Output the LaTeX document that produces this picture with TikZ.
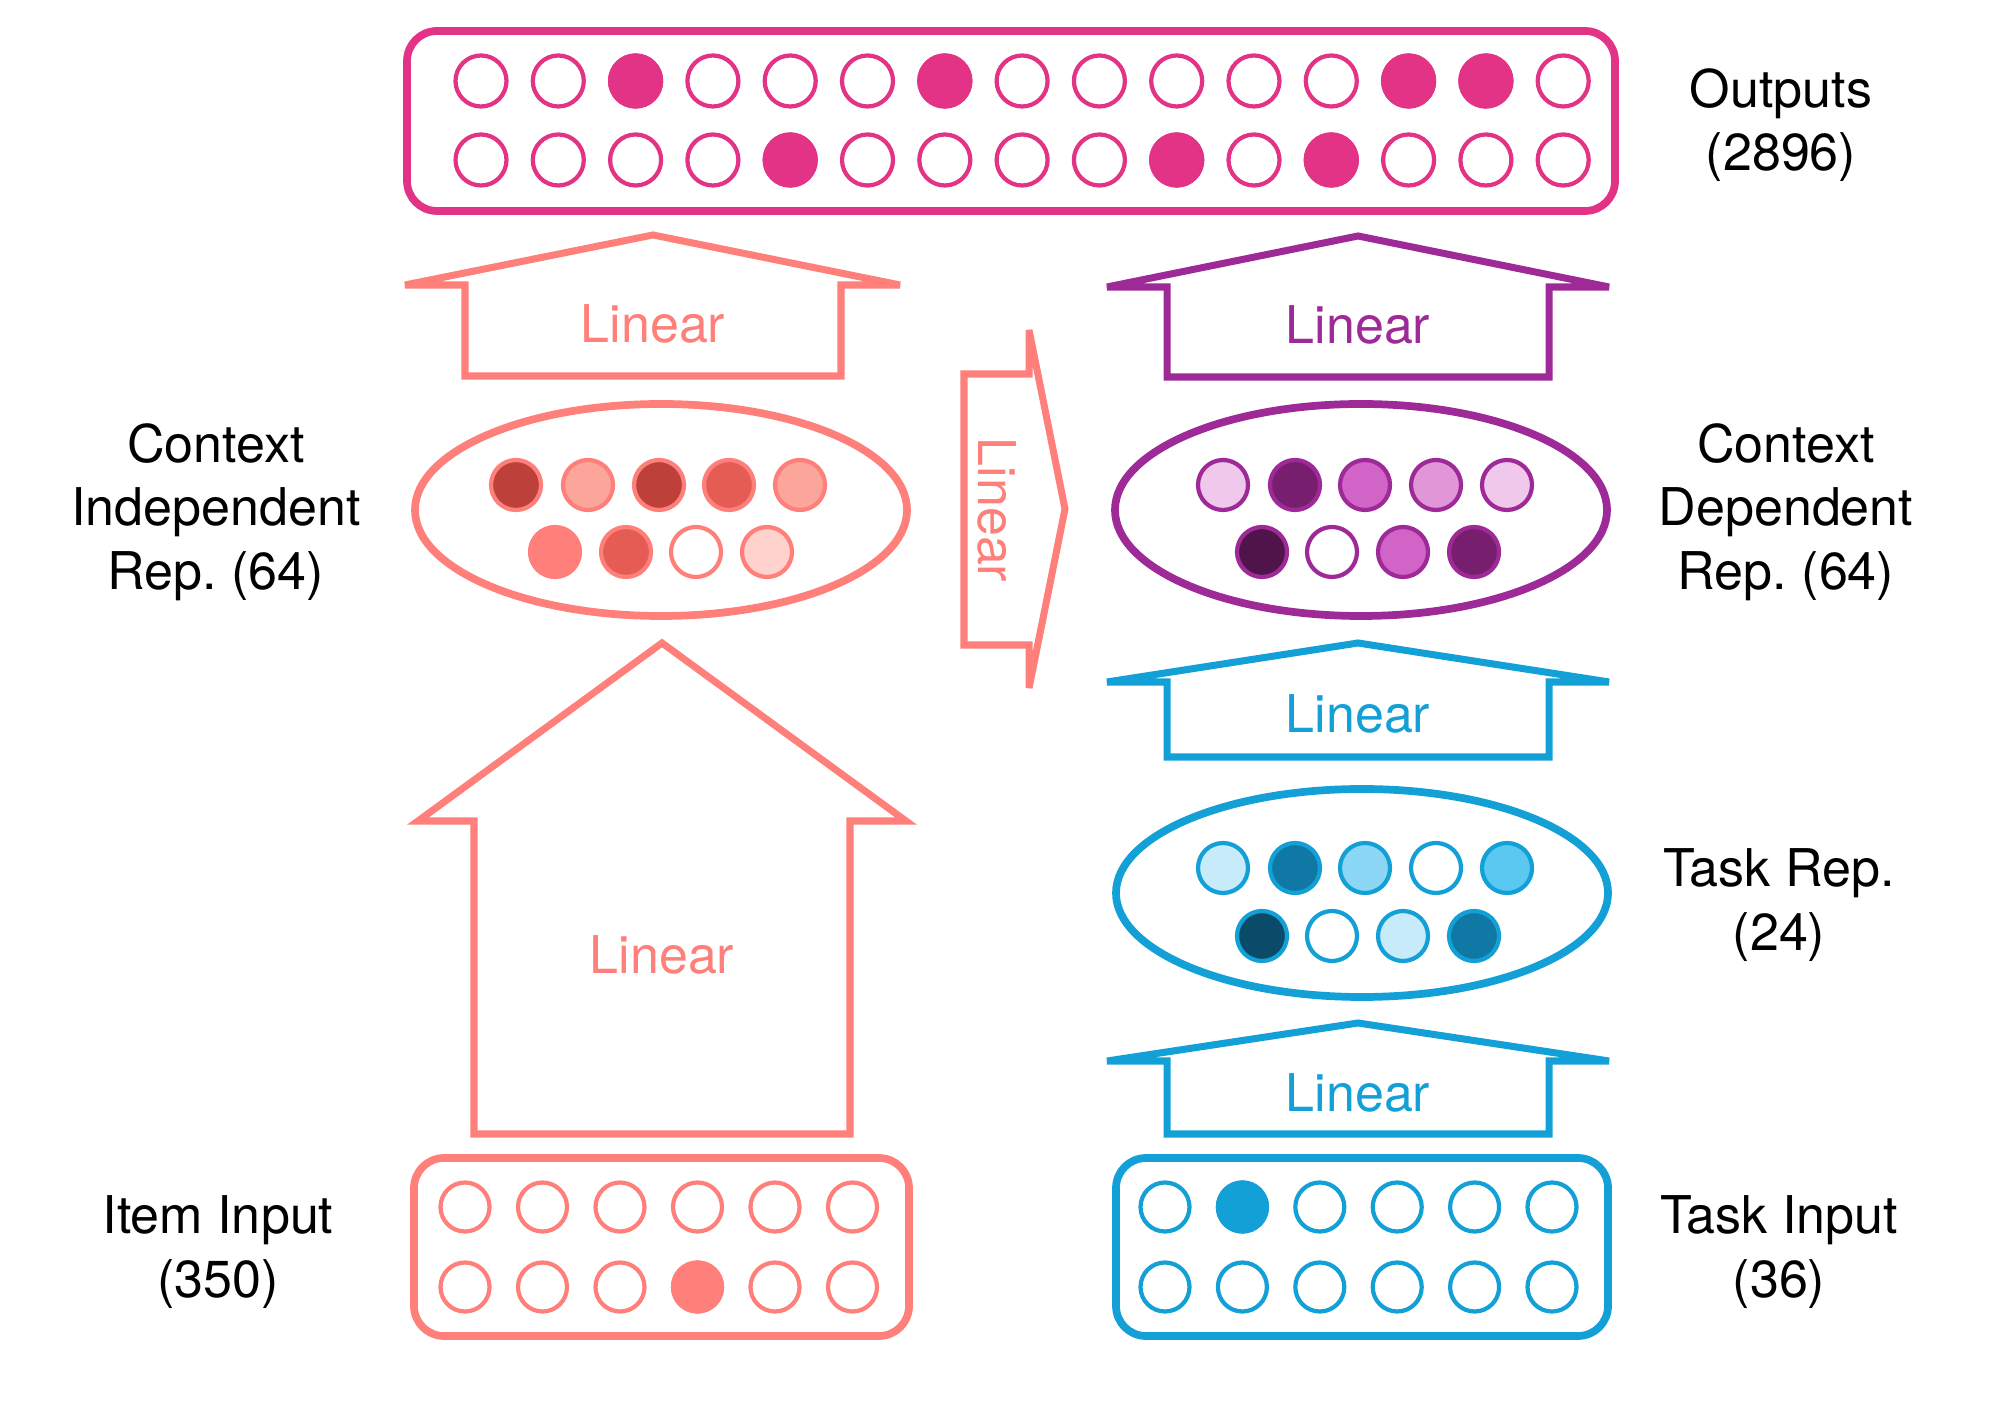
\documentclass[tikz,border=0pt]{standalone}
\usepackage{fontspec}
\setmainfont{TeX Gyre Heros}
\frenchspacing
\definecolor{outc}{RGB}{226,51,135}
\definecolor{itemc}{RGB}{255,127,122}
\definecolor{ctxc}{RGB}{158,42,152}
\definecolor{taskc}{RGB}{18,160,215}
\definecolor{ciA}{RGB}{190,64,58}
\definecolor{ciB}{RGB}{228,92,84}
\definecolor{ciC}{RGB}{252,165,155}
\definecolor{ciD}{RGB}{255,210,205}
\definecolor{cdA}{RGB}{80,20,75}
\definecolor{cdB}{RGB}{120,30,110}
\definecolor{cdC}{RGB}{210,100,200}
\definecolor{cdD}{RGB}{225,150,215}
\definecolor{cdE}{RGB}{240,200,235}
\definecolor{tA}{RGB}{10,75,105}
\definecolor{tB}{RGB}{15,120,165}
\definecolor{tC}{RGB}{90,200,240}
\definecolor{tD}{RGB}{140,215,245}
\definecolor{tE}{RGB}{200,235,250}
\begin{document}
\begin{tikzpicture}
        [
          unit/.style={line width=1.2pt},
          frame/.style={line width=2.2pt},
          block/.style={line width=2pt, line join=miter, miter limit=5},
          layer/.style={align=center, font=\fontsize{14.8}{18}\selectfont},
          lin/.style={font=\fontsize{14.8}{18}\selectfont}
        ]
        \useasboundingbox (0,0) rectangle (19.92,14.2);
        % outputs
        \draw [frame, draw=outc, rounded corners=0.3cm] (4.07,12.09) rectangle (16.15,13.89);
        \foreach \i in {0,...,14} {
            \draw [unit, draw=outc] (4.81+0.773*\i,13.39) circle (0.255);
            \draw [unit, draw=outc] (4.81+0.773*\i,12.60) circle (0.255);
        }
        \foreach \i in {2,6,12,13} {
            \draw [unit, draw=outc, fill=outc] (4.81+0.773*\i,13.39) circle (0.255);
        }
        \foreach \i in {4,9,11} {
            \draw [unit, draw=outc, fill=outc] (4.81+0.773*\i,12.60) circle (0.255);
        }
        % item input
        \draw [frame, draw=itemc, rounded corners=0.3cm] (4.14,0.84) rectangle (9.09,2.62);
        \foreach \i in {0,...,5} {
            \draw [unit, draw=itemc] (4.65+0.775*\i,2.13) circle (0.245);
            \draw [unit, draw=itemc] (4.65+0.775*\i,1.33) circle (0.245);
        }
        \draw [unit, draw=itemc, fill=itemc] (4.65+0.775*3,1.33) circle (0.245);
        % task input
        \draw [frame, draw=taskc, rounded corners=0.3cm] (11.16,0.84) rectangle (16.08,2.62);
        \foreach \i in {0,...,5} {
            \draw [unit, draw=taskc] (11.65+0.774*\i,2.13) circle (0.245);
            \draw [unit, draw=taskc] (11.65+0.774*\i,1.33) circle (0.245);
        }
        \draw [unit, draw=taskc, fill=taskc] (11.65+0.774,2.13) circle (0.245);
        % context independent
        \draw [frame, draw=itemc] (6.61,9.10) ellipse (2.46 and 1.06);
        \foreach \x/\c in {5.16/ciA,5.88/ciC,6.59/ciA,7.29/ciB,8.00/ciC} {
            \draw [unit, draw=itemc, fill=\c] (\x,9.35) circle (0.25);
        }
        \foreach \x/\c in {5.55/itemc,6.26/ciB,6.96/white,7.67/ciD} {
            \draw [unit, draw=itemc, fill=\c] (\x,8.68) circle (0.25);
        }
        % context dependent
        \draw [frame, draw=ctxc] (13.61,9.10) ellipse (2.46 and 1.06);
        \foreach \x/\c in {12.23/cdE,12.95/cdB,13.65/cdC,14.36/cdD,15.07/cdE} {
            \draw [unit, draw=ctxc, fill=\c] (\x,9.35) circle (0.25);
        }
        \foreach \x/\c in {12.62/cdA,13.32/white,14.03/cdC,14.74/cdB} {
            \draw [unit, draw=ctxc, fill=\c] (\x,8.68) circle (0.25);
        }
        % task rep
        \draw [frame, draw=taskc] (13.62,5.27) ellipse (2.46 and 1.04);
        \foreach \x/\c in {12.23/tE,12.95/tB,13.65/tD,14.36/white,15.07/tC} {
            \draw [unit, draw=taskc, fill=\c] (\x,5.52) circle (0.25);
        }
        \foreach \x/\c in {12.62/tA,13.32/white,14.03/tE,14.74/tB} {
            \draw [unit, draw=taskc, fill=\c] (\x,4.84) circle (0.25);
        }
        % linear maps
        \draw [block, draw=itemc] (4.74,2.86) -- (4.74,5.99) -- (4.18,5.99) -- (6.62,7.77)
        -- (9.06,5.99) -- (8.50,5.99) -- (8.50,2.86) -- cycle;
        \draw [block, draw=itemc] (4.65,10.44) -- (4.65,11.35) -- (4.05,11.35) -- (6.53,11.85)
        -- (9.00,11.35) -- (8.41,11.35) -- (8.41,10.44) -- cycle;
        \draw [block, draw=itemc] (9.64,10.46) -- (10.29,10.46) -- (10.29,10.90) -- (10.65,9.11)
        -- (10.29,7.32) -- (10.29,7.75) -- (9.64,7.75) -- cycle;
        \draw [block, draw=ctxc] (11.67,10.43) -- (11.67,11.33) -- (11.07,11.33) -- (13.58,11.84)
        -- (16.09,11.33) -- (15.49,11.33) -- (15.49,10.43) -- cycle;
        \draw [block, draw=taskc] (11.67,6.63) -- (11.67,7.38) -- (11.07,7.38) -- (13.58,7.77)
        -- (16.09,7.38) -- (15.49,7.38) -- (15.49,6.63) -- cycle;
        \draw [block, draw=taskc] (11.67,2.86) -- (11.67,3.59) -- (11.07,3.59) -- (13.58,3.97)
        -- (16.09,3.59) -- (15.49,3.59) -- (15.49,2.86) -- cycle;
        \node [lin, text=itemc] (linbig) at (6.62,4.65) {Linear};
        \node [lin, text=itemc] (lintop) at (6.53,10.96) {Linear};
        \node [lin, text=itemc, rotate=-90] (linside) at (9.97,9.10) {Linear};
        \node [lin, text=ctxc] (linctx) at (13.58,10.95) {Linear};
        \node [lin, text=taskc] (lintask) at (13.58,7.06) {Linear};
        \node [lin, text=taskc] (linin) at (13.58,3.27) {Linear};
        % labels
        \node [layer] (outs) at (17.81,12.95) {Outputs\\(2896)};
        \node [layer] (cindep) at (2.16,9.08) {Context\\Independent\\Rep. (64)};
        \node [layer] (item) at (2.18,1.68) {Item Input\\(350)};
        \node [layer] (cdep) at (17.86,9.08) {Context\\Dependent\\Rep. (64)};
        \node [layer] (trep) at (17.79,5.15) {Task Rep.\\(24)};
        \node [layer] (task) at (17.79,1.68) {Task Input\\(36)};
\end{tikzpicture}
\end{document}
